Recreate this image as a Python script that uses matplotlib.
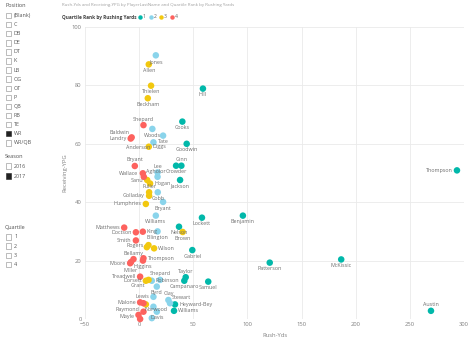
import matplotlib
matplotlib.use("Agg")
import matplotlib.pyplot as plt
from matplotlib.patches import Rectangle

plt.rcParams['font.family'] = ['Open Sans', 'DejaVu Sans']

# ---- data: receivers, 2017 season ----
names = [
    "Hill", "Cooks", "Goodwin", "Ginn", "Crowder", "Jackson", "Thompson", "Lockett",
    "Benjamin", "Nelson", "Gabriel", "Taylor", "Campanaro", "Samuel", "Patterson",
    "McKissic", "Austin", "Heyward-Bey", "Williams",
    "Jones", "Woods", "Tate", "Anderson", "Lee", "", "Cobb", "Bryant", "Williams",
    "Ellington", "Shepard", "Robinson", "Byrd", "Lewis", "Clay", "Stewart", "",
    "Davis", "",
    "Allen", "Thielen", "Beckham", "Diggs", "Sanu", "Hogan", "Fuller", "Golladay",
    "Humphries", "Brown", "Rogers", "", "Wilson", "Dorsett", "Grant", "",
    "Shepard", "Baldwin", "Landry", "Bryant", "Wallace", "Agholor", "Matthews",
    "Doctson", "King", "Smith", "Bellamy", "Thompson", "Moore", "Higgins", "Miller",
    "Treadwell", "Malone", "Norwood", "Raymond", "Mayle", "",
]
rush_yds = [
    58.9, 39.9, 43.9, 39.0, 34.1, 37.8, 293.5, 58.0,
    95.8, 36.8, 49.1, 43.0, 41.7, 63.8, 120.6,
    186.6, 269.5, 33.1, 32.2,
    15.4, 12.2, 22.1, 13.2, 17.0, 17.0, 17.2, 22.1, 15.4,
    17.0, 19.3, 11.7, 16.3, 13.2, 27.0, 28.5, 13.2,
    16.3, 11.7,
    8.9, 11.0, 8.0, 8.9, 7.4, 10.1, 9.2, 9.2,
    6.2, 40.2, 8.6, 7.1, 13.8, 6.2, 8.7, 6.2,
    4.0, -6.9, -7.8, -4.0, 3.4, 4.3, -13.8,
    -3.0, 3.4, -3.0, -5.2, 4.0, -8.3, 3.5, -7.5,
    0.9, 0.9, 4.0, 4.0, -0.6, 0.9,
]
rec_ypg = [
    78.9, 67.6, 60.0, 52.5, 52.5, 47.6, 50.9, 34.7,
    35.4, 31.6, 23.6, 14.3, 13.1, 12.8, 19.3,
    20.4, 2.8, 5.0, 2.8,
    90.3, 65.1, 62.8, 60.5, 50.2, 48.7, 43.4, 40.1, 35.4,
    30.0, 13.4, 13.1, 11.1, 7.6, 6.5, 5.4, 4.2,
    2.5, 0.3,
    87.2, 79.9, 75.6, 59.0, 47.6, 46.4, 43.4, 42.2,
    39.4, 29.8, 25.3, 24.6, 24.2, 13.1, 13.4, 5.0,
    66.4, 62.2, 61.8, 52.4, 49.9, 48.7, 31.3,
    29.7, 29.9, 26.9, 20.5, 20.8, 19.1, 20.0, 19.5,
    14.5, 5.7, 5.4, 2.5, 1.4, 0.0,
]
quartile = [1] * 19 + [2] * 19 + [3] * 16 + [4] * 21

# where each data label sits relative to its marker
label_side = [
    'b', 'b', 'b', 't', 'b', 'b', 'l', 'b',
    'b', 'b', 'b', 't', 'b', 'b', 'b',
    'b', 't', 'r', 'r',
    'b', 'b', 'b', 'bl', 't', '', 'b', 'b', 'b',
    'b', 't', 'r', 'b', 'l', 't', 'tr', '',
    'b', '',
    'b', 'b', 'b', 'r', 'l', 'r', 't', 'l',
    'l', 'b', 'l', '', 'r', 'l', 'bl', '',
    't', 'tl', 'l', 't', 'l', 'tr', 'l',
    'l', 'r', 'l', 't', 'r', 'l', 'b', 'bb',
    'l', 'l', 'br', 'lu', 'ld', '',
]

quartile_levels = [1, 2, 3, 4]
x_ticks = [-50, 0, 50, 100, 150, 200, 250, 300]
y_ticks = [0, 20, 40, 60, 80, 100]
positions = ["(Blank)", "C", "DB", "DE", "DT", "K", "LB", "OG", "OT", "P",
             "QB", "RB", "TE", "WR", "WR/QB"]
positions_on = ["WR"]
seasons = ["2016", "2017"]
seasons_on = ["2017"]

colors = {1: "#01B8AA", 2: "#8AD4EB", 3: "#F2C80F", 4: "#FD625E"}

W, H = 474, 339
fig = plt.figure(figsize=(W / 100, H / 100), dpi=100)
fig.patch.set_facecolor("white")


def fx(x):
    return x / W


def fy(y):
    return 1 - y / H


# ---- scatter plot ----
ax = fig.add_axes([fx(85), fy(319), fx(464) - fx(85), fy(27) - fy(319)])
ax.set_xlim(-50, 300)
ax.set_ylim(0, 100)
for s in ax.spines.values():
    s.set_visible(False)
ax.set_xticks(x_ticks)
ax.set_yticks(y_ticks)
ax.grid(True, color="#EAEAEA", linewidth=0.6)
ax.set_axisbelow(True)
ax.tick_params(length=0, labelsize=4.2, labelcolor="#808080", pad=2.5)
ax.set_xlabel("Rush-Yds", fontsize=4.2, color="#808080", labelpad=4)
ax.set_ylabel("Receiving-YPG", fontsize=4.2, color="#808080", labelpad=3)

ax.scatter(rush_yds, rec_ypg, s=22, c=[colors[q] for q in quartile],
           edgecolors="none", clip_on=False, zorder=3)

offsets = {
    'b': ((0, -2.6), 'center', 'top'),
    'bb': ((0, -4.2), 'center', 'top'),
    'br': ((1.0, -2.4), 'left', 'top'),
    't': ((0, 2.6), 'center', 'bottom'),
    'l': ((-3.0, 0), 'right', 'center'),
    'lu': ((-3.0, 1.3), 'right', 'center'),
    'ld': ((-3.0, -0.8), 'right', 'center'),
    'r': ((3.0, 0), 'left', 'center'),
    'tl': ((-1.5, 2.0), 'right', 'bottom'),
    'tr': ((1.5, 2.0), 'left', 'bottom'),
    'bl': ((-2.5, -2.0), 'right', 'top'),
}
for nm, xv, yv, side in zip(names, rush_yds, rec_ypg, label_side):
    if not nm or not side:
        continue
    off, ha, va = offsets[side]
    ax.annotate(nm, (xv, yv), xytext=off, textcoords="offset points",
                ha=ha, va=va, fontsize=3.9, color="#6E6E6E", zorder=4,
                annotation_clip=False)

# ---- title and legend ----
fig.text(fx(62), fy(5), "Rush-Yds and Receiving-YPG by PlayerLastName and Quartile Rank by Rushing Yards",
         fontsize=3.2, color="#A0A0A0", ha="left", va="center")
fig.text(fx(62), fy(17), "Quartile Rank by Rushing Yards", fontsize=3.4,
         color="#404040", fontweight="bold", ha="left", va="center")
lx = 140
for q in quartile_levels:
    fig.lines.append(plt.Line2D([fx(lx)], [fy(17)], marker="o", markersize=3.2,
                                color=colors[q], markeredgewidth=0,
                                transform=fig.transFigure, figure=fig))
    fig.text(fx(lx + 3), fy(17), str(q), fontsize=3.6, color="#606060",
             ha="left", va="center")
    lx += 10.5

# ---- slicer panel ----
def slicer(title, items, checked, y0, step=9.1):
    fig.text(fx(5), fy(y0), title, fontsize=4.0, color="#505050",
             ha="left", va="center")
    y = y0 + 10
    for it in items:
        on = it in checked
        fig.patches.append(Rectangle((fx(5.5), fy(y + 2.7)), fx(5.5), 5.5 / H,
                                     transform=fig.transFigure,
                                     facecolor="#222222" if on else "white",
                                     edgecolor="#222222" if on else "#8A8A8A",
                                     linewidth=0.4))
        fig.text(fx(14), fy(y), it, fontsize=3.9, color="#555555",
                 ha="left", va="center")
        y += step


slicer("Position", positions, positions_on, 5.5)
slicer("Season", seasons, seasons_on, 156, step=10)
slicer("Quartile", [str(q) for q in quartile_levels], [], 227, step=9.2)

fig.savefig("out.png", dpi=100, facecolor="white")
